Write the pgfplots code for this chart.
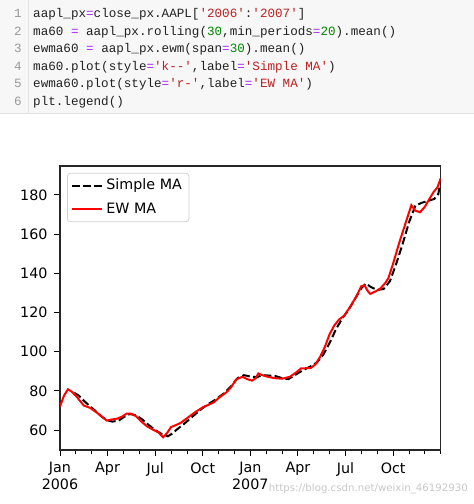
\documentclass[border=0pt]{standalone}
\usepackage{pgfplots}
\pgfplotsset{compat=1.18}
\usepackage{fontspec}
\setmainfont{DejaVu Sans}
\newfontfamily\codefont{Liberation Mono}
\definecolor{codebg}{HTML}{F7F7F7}
\definecolor{codeline}{HTML}{E2E2E2}
\definecolor{lnum}{HTML}{999999}
\definecolor{cpurple}{HTML}{AA22FF}
\definecolor{cgreen}{HTML}{008800}
\definecolor{cstr}{HTML}{BA2121}
\definecolor{ctext}{HTML}{222222}
\newcommand{\eq}{\textcolor{cpurple}{=}}
\newcommand{\num}[1]{\textcolor{cgreen}{#1}}
\newcommand{\str}[1]{\textcolor{cstr}{#1}}
\begin{document}
\begin{tikzpicture}
\path[use as bounding box] (0bp,0bp) rectangle (474bp,-504bp);
% code block
\fill[codebg] (0bp,0bp) rectangle (474bp,-113bp);
\draw[codeline, line width=1bp] (0bp,-113bp) -- (474bp,-113bp);
\draw[codeline, line width=0.8bp] (28bp,0bp) -- (28bp,-113bp);
\begin{scope}[every node/.style={inner sep=0pt, anchor=base west, font=\codefont\fontsize{12.6bp}{15bp}\selectfont, text=ctext}]
\foreach \i/\y in {1/17.5,2/35,3/52.5,4/70,5/87.5,6/105} {
  \node[text=lnum, anchor=base east] at (22bp,-\y bp) {\i};
}
\node at (33bp,-17.5bp) {aapl\_px\eq close\_px.AAPL[\str{'2006'}:\str{'2007'}]};
\node at (33bp,-35bp) {ma60 \eq{} aapl\_px.rolling(\num{30},min\_periods\eq\num{20}).mean()};
\node at (33bp,-52.5bp) {ewma60 \eq{} aapl\_px.ewm(span\eq\num{30}).mean()};
\node at (33bp,-70bp) {ma60.plot(style\eq\str{'k--'},label\eq\str{'Simple MA'})};
\node at (33bp,-87.5bp) {ewma60.plot(style\eq\str{'r-'},label\eq\str{'EW MA'})};
\node at (33bp,-105bp) {plt.legend()};
\end{scope}
\begin{axis}[
  at={(60bp,-450bp)}, anchor=south west,
  scale only axis, width=380.7bp, height=284bp,
  xmin=0, xmax=24, ymin=49.8, ymax=194.8,
  xtick={0,3,6,9,12,15,18,21},
  xticklabels={{Jan\\2006},Apr,Jul,Oct,{Jan\\2007},Apr,Jul,Oct},
  minor xtick={1,2,4,5,7,8,10,11,13,14,16,17,19,20,22,23,24},
  ytick={60,80,100,120,140,160,180},
  tick align=outside, tick pos=left,
  major tick length=6bp, minor tick length=3.5bp,
  axis line style={black!85, line width=1.1bp},
  every tick/.style={black, line width=1bp},
  every minor tick/.style={black, line width=0.8bp},
  ticklabel style={font=\fontsize{14.3bp}{16.6bp}\selectfont, text=black},
  xticklabel style={align=center, yshift=-3bp},
  yticklabel style={xshift=-3bp},
  /pgf/number format/assume math mode=true,
  legend cell align=left,
  legend style={at={(0.0184,0.976)}, anchor=north west, draw=black!18, line width=0.8bp,
    rounded corners=3bp, fill=white, inner xsep=4bp, inner ysep=2.5bp,
    font=\fontsize{14.3bp}{16.6bp}\selectfont,
    nodes={inner sep=3bp, text height=11bp, text depth=3.3bp},
    row sep=3bp},
  legend image code/.code={\draw[#1] (0bp,0bp) -- (30bp,0bp);},
]
\addplot[black, line width=2bp, dash pattern=on 7.7bp off 3.3bp] coordinates {
(0.90,79.0) (1.20,77.5) (1.50,75.0) (1.80,72.8) (2.20,70.0) (2.60,67.0) (2.95,65.0)
(3.30,64.3) (3.70,64.8) (4.00,66.5) (4.40,68.2) (4.80,67.5) (5.20,65.3) (5.60,62.5)
(6.00,60.0) (6.40,58.0) (6.80,56.8) (7.10,58.3) (7.40,60.5) (7.80,63.0) (8.30,66.5)
(8.80,70.0) (9.30,73.0) (9.80,75.5) (10.30,78.5) (10.80,82.5) (11.20,86.5) (11.60,88.0)
(12.00,87.3) (12.40,87.0) (12.80,88.0) (13.20,87.8) (13.60,87.5) (14.00,86.5) (14.40,86.0)
(14.80,88.0) (15.30,90.5) (15.80,92.5) (16.20,94.5) (16.60,98.5) (17.00,104.5) (17.40,111.5)
(17.80,117.0) (18.20,121.5) (18.60,127.0) (19.00,132.5) (19.30,134.8) (19.60,133.0) (20.00,131.5)
(20.40,132.0) (20.80,136.0) (21.20,145.0) (21.60,155.0) (22.00,166.0) (22.40,174.5) (22.80,176.0)
(23.20,177.0) (23.60,178.0) (23.85,180.5) (24.00,187.5)
};
\addlegendentry{Simple MA}
\addplot[red, line width=2bp] coordinates {
(0.00,72.0) (0.25,77.5) (0.50,80.8) (0.75,79.5) (1.00,77.5) (1.25,75.0) (1.50,72.5)
(1.90,71.3) (2.30,69.0) (2.70,66.5) (2.95,64.8) (3.20,65.3) (3.60,65.8) (3.90,66.8)
(4.20,68.4) (4.50,68.3) (4.80,67.0) (5.10,64.5) (5.50,61.8) (5.90,60.0) (6.20,58.8)
(6.50,56.3) (6.75,58.5) (7.00,61.5) (7.30,62.5) (7.60,63.6) (8.00,66.0) (8.50,69.0)
(9.00,71.6) (9.40,73.0) (9.70,74.2) (10.10,77.0) (10.50,79.3) (10.80,82.0) (11.10,85.8)
(11.50,87.2) (11.80,86.0) (12.10,85.2) (12.35,86.5) (12.50,88.9) (12.75,88.0) (13.10,87.2)
(13.50,86.5) (14.00,86.2) (14.50,87.2) (14.90,89.5) (15.20,91.5) (15.80,91.6) (16.10,93.5)
(16.40,97.4) (16.70,102.5) (17.00,109.0) (17.30,113.5) (17.60,116.5) (17.90,118.3) (18.30,123.0)
(18.70,128.5) (19.00,133.5) (19.20,133.8) (19.40,131.0) (19.55,129.5) (19.90,130.8) (20.20,132.3)
(20.50,135.0) (20.70,137.5) (21.00,145.0) (21.40,156.0) (21.80,166.0) (22.15,174.8) (22.40,172.0)
(22.70,171.2) (23.00,174.0) (23.25,177.5) (23.55,181.5) (23.80,184.0) (24.00,188.5)
};
\addlegendentry{EW MA}
\end{axis}
\node[anchor=east, inner sep=0pt, text=black!22, font=\fontsize{10.2bp}{12bp}\selectfont] at (468bp,-489bp) {https://blog.csdn.net/weixin\_46192930};
\end{tikzpicture}
\end{document}
